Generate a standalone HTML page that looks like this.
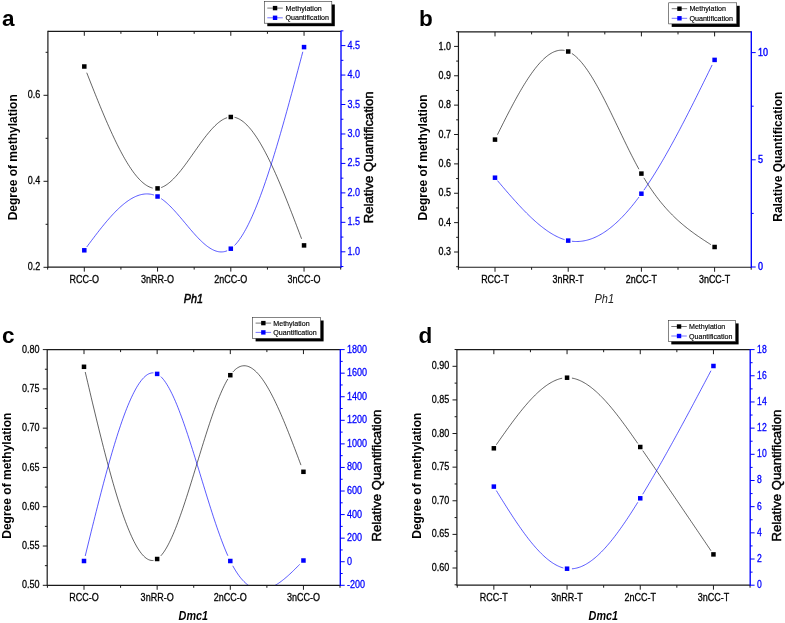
<!DOCTYPE html>
<html lang="en">
<head>
<meta charset="utf-8">
<title>Methylation and relative quantification of Ph1 and Dmc1</title>
<style>
html,body{margin:0;padding:0;background:#fff;}
body{width:785px;height:623px;overflow:hidden;}
svg{display:block;filter:blur(0.33px);font-family:"Liberation Sans",sans-serif;}
</style>
</head>
<body>
<svg width="785" height="623" viewBox="0 0 785 623">
<rect width="785" height="623" fill="#fff"/>
<clipPath id="clip0"><rect x="47.9" y="31.3" width="293.1" height="235.8"/></clipPath>
<path d="M86.74 72.72 L87.96 75.83 L89.18 78.93 L90.40 82.03 L91.62 85.11 L92.85 88.19 L94.07 91.25 L95.29 94.30 L96.51 97.33 L97.73 100.34 L98.95 103.33 L100.17 106.31 L101.39 109.25 L102.61 112.18 L103.83 115.07 L105.05 117.94 L106.28 120.78 L107.50 123.58 L108.72 126.35 L109.94 129.09 L111.16 131.78 L112.38 134.44 L113.60 137.06 L114.82 139.63 L116.04 142.15 L117.26 144.63 L118.48 147.07 L119.70 149.45 L120.93 151.78 L122.15 154.05 L123.37 156.27 L124.59 158.43 L125.81 160.53 L127.03 162.57 L128.25 164.55 L129.47 166.46 L130.69 168.31 L131.91 170.08 L133.13 171.79 L134.35 173.43 L135.58 174.99 L136.80 176.47 L138.02 177.88 L139.24 179.21 L140.46 180.46 L141.68 181.62 L142.90 182.70 L144.12 183.70 L145.34 184.60 L146.56 185.42 L147.78 186.14 L149.00 186.77 L150.23 187.30 L151.45 187.74 L152.67 188.08 M161.21 187.54 L162.43 187.05 L163.65 186.47 L164.88 185.80 L166.10 185.05 L167.32 184.21 L168.54 183.29 L169.76 182.30 L170.98 181.23 L172.20 180.10 L173.42 178.90 L174.64 177.64 L175.86 176.33 L177.08 174.96 L178.30 173.54 L179.53 172.07 L180.75 170.57 L181.97 169.02 L183.19 167.44 L184.41 165.82 L185.63 164.18 L186.85 162.52 L188.07 160.83 L189.29 159.13 L190.51 157.41 L191.73 155.68 L192.95 153.95 L194.18 152.21 L195.40 150.48 L196.62 148.75 L197.84 147.03 L199.06 145.32 L200.28 143.62 L201.50 141.95 L202.72 140.30 L203.94 138.67 L205.16 137.07 L206.38 135.51 L207.60 133.99 L208.83 132.51 L210.05 131.07 L211.27 129.68 L212.49 128.34 L213.71 127.06 L214.93 125.84 L216.15 124.68 L217.37 123.59 L218.59 122.56 L219.81 121.61 L221.03 120.74 L222.25 119.95 L223.48 119.25 L224.70 118.63 L225.92 118.11 L227.14 117.68 M234.52 117.30 L235.77 117.63 L237.01 118.05 L238.25 118.58 L239.49 119.22 L240.73 119.95 L241.97 120.78 L243.22 121.71 L244.46 122.74 L245.70 123.85 L246.94 125.06 L248.18 126.36 L249.42 127.74 L250.66 129.21 L251.91 130.76 L253.15 132.40 L254.39 134.11 L255.63 135.90 L256.87 137.76 L258.11 139.70 L259.36 141.71 L260.60 143.79 L261.84 145.94 L263.08 148.15 L264.32 150.43 L265.56 152.77 L266.80 155.17 L268.05 157.62 L269.29 160.14 L270.53 162.70 L271.77 165.32 L273.01 167.99 L274.25 170.71 L275.49 173.47 L276.74 176.28 L277.98 179.13 L279.22 182.02 L280.46 184.95 L281.70 187.92 L282.94 190.92 L284.19 193.96 L285.43 197.02 L286.67 200.12 L287.91 203.24 L289.15 206.38 L290.39 209.55 L291.63 212.74 L292.88 215.96 L294.12 219.18 L295.36 222.43 L296.60 225.68 L297.84 228.95 L299.08 232.23 L300.33 235.52 L301.57 238.81" fill="none" stroke="#000000" stroke-width="0.68" clip-path="url(#clip0)" stroke-opacity="0.9"/>
<path d="M86.74 247.00 L87.96 245.36 L89.18 243.71 L90.40 242.08 L91.62 240.45 L92.85 238.82 L94.07 237.21 L95.29 235.60 L96.51 234.01 L97.73 232.43 L98.95 230.86 L100.17 229.31 L101.39 227.78 L102.61 226.26 L103.83 224.76 L105.05 223.28 L106.28 221.82 L107.50 220.39 L108.72 218.98 L109.94 217.59 L111.16 216.23 L112.38 214.90 L113.60 213.60 L114.82 212.32 L116.04 211.08 L117.26 209.87 L118.48 208.70 L119.70 207.56 L120.93 206.45 L122.15 205.39 L123.37 204.36 L124.59 203.38 L125.81 202.43 L127.03 201.53 L128.25 200.67 L129.47 199.85 L130.69 199.09 L131.91 198.37 L133.13 197.70 L134.35 197.08 L135.58 196.51 L136.80 195.99 L138.02 195.53 L139.24 195.12 L140.46 194.77 L141.68 194.48 L142.90 194.25 L144.12 194.07 L145.34 193.96 L146.56 193.91 L147.78 193.93 L149.00 194.01 L150.23 194.15 L151.45 194.37 L152.67 194.65 L153.89 195.00 M161.21 198.65 L162.43 199.51 L163.65 200.42 L164.88 201.39 L166.10 202.42 L167.32 203.50 L168.54 204.63 L169.76 205.81 L170.98 207.02 L172.20 208.28 L173.42 209.57 L174.64 210.89 L175.86 212.24 L177.08 213.62 L178.30 215.02 L179.53 216.43 L180.75 217.87 L181.97 219.31 L183.19 220.76 L184.41 222.22 L185.63 223.68 L186.85 225.14 L188.07 226.60 L189.29 228.04 L190.51 229.48 L191.73 230.90 L192.95 232.30 L194.18 233.68 L195.40 235.04 L196.62 236.37 L197.84 237.67 L199.06 238.93 L200.28 240.16 L201.50 241.34 L202.72 242.48 L203.94 243.57 L205.16 244.61 L206.38 245.60 L207.60 246.52 L208.83 247.39 L210.05 248.19 L211.27 248.92 L212.49 249.59 L213.71 250.17 L214.93 250.68 L216.15 251.11 L217.37 251.45 L218.59 251.71 L219.81 251.88 L221.03 251.95 L222.25 251.92 L223.48 251.79 L224.70 251.55 L225.92 251.21 L227.14 250.76 M234.52 245.48 L235.77 244.16 L237.01 242.72 L238.25 241.16 L239.49 239.49 L240.73 237.70 L241.97 235.80 L243.22 233.79 L244.46 231.67 L245.70 229.45 L246.94 227.13 L248.18 224.71 L249.42 222.19 L250.66 219.57 L251.91 216.86 L253.15 214.05 L254.39 211.16 L255.63 208.18 L256.87 205.12 L258.11 201.97 L259.36 198.74 L260.60 195.43 L261.84 192.05 L263.08 188.59 L264.32 185.06 L265.56 181.46 L266.80 177.79 L268.05 174.06 L269.29 170.26 L270.53 166.40 L271.77 162.48 L273.01 158.51 L274.25 154.48 L275.49 150.40 L276.74 146.27 L277.98 142.09 L279.22 137.87 L280.46 133.60 L281.70 129.29 L282.94 124.94 L284.19 120.55 L285.43 116.13 L286.67 111.68 L287.91 107.19 L289.15 102.68 L290.39 98.14 L291.63 93.57 L292.88 88.99 L294.12 84.38 L295.36 79.76 L296.60 75.12 L297.84 70.47 L299.08 65.81 L300.33 61.14 L301.57 56.46 L302.81 51.78" fill="none" stroke="#0000ff" stroke-width="0.72" clip-path="url(#clip0)" stroke-opacity="0.9"/>
<rect x="82.05" y="64.25" width="4.5" height="4.5" fill="#000000"/>
<rect x="155.3" y="186.15" width="4.5" height="4.5" fill="#000000"/>
<rect x="228.55" y="114.75" width="4.5" height="4.5" fill="#000000"/>
<rect x="301.8" y="243.15" width="4.5" height="4.5" fill="#000000"/>
<rect x="82.05" y="248.05" width="4.5" height="4.5" fill="#0000ff"/>
<rect x="155.3" y="194.25" width="4.5" height="4.5" fill="#0000ff"/>
<rect x="228.55" y="246.45" width="4.5" height="4.5" fill="#0000ff"/>
<rect x="301.8" y="44.85" width="4.5" height="4.5" fill="#0000ff"/>
<g stroke="#1a1a1a" stroke-width="1.2" fill="none">
<path d="M47.9 30.7 V267.7"/>
<path d="M47.9 31.3 H341"/>
<path d="M47.9 267.1 H341"/>
<path stroke-width="1.0" d="M84.3 267.1 v4.5 M84.3 31.3 v4.5 M157.55 267.1 v4.5 M157.55 31.3 v4.5 M230.8 267.1 v4.5 M230.8 31.3 v4.5 M304.05 267.1 v4.5 M304.05 31.3 v4.5 M47.67 267.1 v2.5 M120.92 267.1 v2.5 M120.92 31.3 v2.5 M194.18 267.1 v2.5 M194.18 31.3 v2.5 M267.43 267.1 v2.5 M267.43 31.3 v2.5 M340.68 267.1 v2.5 M47.9 267.3 h-4.4 M47.9 181.3 h-4.4 M47.9 95.3 h-4.4 M47.9 224.3 h-2.3 M47.9 138.3 h-2.3 M47.9 52.3 h-2.3"/>
</g>
<g stroke="#0000ff" stroke-width="1.35" fill="none">
<path d="M341 30.7 V267.7"/>
<path stroke-width="1.0" d="M341 251.8 h4.4 M341 222.34 h4.4 M341 192.89 h4.4 M341 163.43 h4.4 M341 133.97 h4.4 M341 104.51 h4.4 M341 75.06 h4.4 M341 45.6 h4.4 M341 266.53 h2.4 M341 237.07 h2.4 M341 207.61 h2.4 M341 178.16 h2.4 M341 148.7 h2.4 M341 119.24 h2.4 M341 89.79 h2.4 M341 60.33 h2.4 M341 30.87 h2.4"/>
</g>
<g font-size="10.5" fill="#000" text-anchor="end" stroke="#000" stroke-width="0.28">
<text transform="translate(40.3 270.4) scale(0.86 1)">0.2</text>
<text transform="translate(40.3 184.4) scale(0.86 1)">0.4</text>
<text transform="translate(40.3 98.4) scale(0.86 1)">0.6</text>
</g>
<g font-size="10.5" fill="#0000ff" text-anchor="start" stroke="#0000ff" stroke-width="0.28">
<text transform="translate(347.6 254.8) scale(0.86 1)">1.0</text>
<text transform="translate(347.6 225.34) scale(0.86 1)">1.5</text>
<text transform="translate(347.6 195.89) scale(0.86 1)">2.0</text>
<text transform="translate(347.6 166.43) scale(0.86 1)">2.5</text>
<text transform="translate(347.6 136.97) scale(0.86 1)">3.0</text>
<text transform="translate(347.6 107.51) scale(0.86 1)">3.5</text>
<text transform="translate(347.6 78.06) scale(0.86 1)">4.0</text>
<text transform="translate(347.6 48.6) scale(0.86 1)">4.5</text>
</g>
<g font-size="10.5" fill="#000" text-anchor="middle" stroke="#000" stroke-width="0.28">
<text transform="translate(84.3 282.6) scale(0.86 1)">RCC-O</text>
<text transform="translate(157.55 282.6) scale(0.86 1)">3nRR-O</text>
<text transform="translate(230.8 282.6) scale(0.86 1)">2nCC-O</text>
<text transform="translate(304.05 282.6) scale(0.86 1)">3nCC-O</text>
</g>
<text transform="translate(16.6 157.3) rotate(-90)" text-anchor="middle" font-size="12" font-weight="bold">Degree of methylation</text>
<text transform="translate(373.2 157.3) rotate(-90)" text-anchor="middle" font-size="13.2" font-weight="normal" stroke="#000" stroke-width="0.45">Relative Quantification</text>
<text transform="translate(193.3 303.4) scale(0.83 1)" text-anchor="middle" font-size="13" font-style="italic" font-weight="normal" stroke="#000" stroke-width="0.55">Ph1</text>
<text transform="translate(2 25.6)" font-size="22.5" font-weight="bold">a</text>
<rect x="267.3" y="4.5" width="67.5" height="21.7" fill="#000"/>
<rect x="264.3" y="1.5" width="67.5" height="21.7" fill="#fff" stroke="#333" stroke-width="0.6"/>
<path d="M267.3 8.1 H282.8" stroke="#000000" stroke-width="0.6" stroke-opacity="0.9"/>
<rect x="272.85" y="5.9" width="4.4" height="4.4" fill="#000000"/>
<text x="285.5" y="10.66" font-size="7.1" fill="#000" stroke="#000" stroke-width="0.15">Methylation</text>
<path d="M267.3 17.8 H282.8" stroke="#0000ff" stroke-width="0.6" stroke-opacity="0.9"/>
<rect x="272.85" y="15.6" width="4.4" height="4.4" fill="#0000ff"/>
<text x="285.5" y="20.36" font-size="7.1" fill="#000" stroke="#000" stroke-width="0.15">Quantification</text>
<clipPath id="clip1"><rect x="458.45" y="31.9" width="292.85" height="235.35"/></clipPath>
<path d="M497.44 134.69 L498.66 132.24 L499.88 129.79 L501.10 127.35 L502.32 124.92 L503.54 122.50 L504.76 120.09 L505.98 117.69 L507.20 115.31 L508.42 112.94 L509.64 110.59 L510.86 108.27 L512.08 105.96 L513.30 103.68 L514.52 101.42 L515.74 99.19 L516.96 96.98 L518.18 94.81 L519.40 92.66 L520.62 90.55 L521.84 88.48 L523.06 86.44 L524.28 84.44 L525.50 82.47 L526.72 80.55 L527.94 78.67 L529.16 76.84 L530.38 75.05 L531.60 73.31 L532.82 71.62 L534.04 69.98 L535.26 68.40 L536.48 66.86 L537.70 65.39 L538.92 63.97 L540.14 62.61 L541.36 61.31 L542.58 60.08 L543.80 58.90 L545.02 57.80 L546.24 56.76 L547.46 55.79 L548.68 54.89 L549.90 54.07 L551.12 53.32 L552.34 52.64 L553.56 52.04 L554.78 51.52 L556.00 51.08 L557.22 50.73 L558.44 50.46 L559.66 50.27 L560.88 50.17 L562.10 50.16 L563.32 50.24 L564.54 50.41 M571.86 53.46 L573.08 54.30 L574.30 55.23 L575.52 56.24 L576.74 57.34 L577.96 58.52 L579.18 59.79 L580.40 61.13 L581.62 62.54 L582.84 64.03 L584.06 65.58 L585.28 67.21 L586.50 68.90 L587.72 70.65 L588.94 72.46 L590.16 74.33 L591.38 76.26 L592.60 78.24 L593.82 80.27 L595.04 82.35 L596.26 84.47 L597.48 86.64 L598.70 88.85 L599.92 91.10 L601.14 93.39 L602.36 95.71 L603.58 98.06 L604.80 100.44 L606.02 102.85 L607.24 105.28 L608.46 107.73 L609.68 110.21 L610.90 112.70 L612.12 115.20 L613.34 117.72 L614.56 120.25 L615.78 122.79 L617.00 125.33 L618.22 127.87 L619.44 130.42 L620.66 132.96 L621.88 135.50 L623.10 138.04 L624.32 140.56 L625.54 143.07 L626.76 145.57 L627.98 148.05 L629.20 150.52 L630.42 152.96 L631.64 155.38 L632.86 157.77 L634.08 160.14 L635.30 162.47 L636.52 164.77 L637.74 167.04 L638.96 169.27 M643.88 177.83 L645.12 179.87 L646.36 181.87 L647.60 183.83 L648.84 185.75 L650.08 187.62 L651.33 189.45 L652.57 191.24 L653.81 193.00 L655.05 194.71 L656.29 196.39 L657.53 198.03 L658.77 199.63 L660.01 201.20 L661.25 202.73 L662.49 204.23 L663.73 205.70 L664.97 207.13 L666.21 208.53 L667.45 209.90 L668.69 211.24 L669.94 212.55 L671.18 213.84 L672.42 215.09 L673.66 216.32 L674.90 217.53 L676.14 218.70 L677.38 219.86 L678.62 220.99 L679.86 222.09 L681.10 223.18 L682.34 224.24 L683.58 225.28 L684.82 226.31 L686.06 227.31 L687.31 228.30 L688.55 229.27 L689.79 230.22 L691.03 231.16 L692.27 232.08 L693.51 232.98 L694.75 233.88 L695.99 234.76 L697.23 235.63 L698.47 236.49 L699.71 237.34 L700.95 238.17 L702.19 239.00 L703.43 239.83 L704.67 240.64 L705.92 241.45 L707.16 242.25 L708.40 243.05 L709.64 243.85 L710.88 244.64" fill="none" stroke="#000000" stroke-width="0.68" clip-path="url(#clip1)" stroke-opacity="0.9"/>
<path d="M497.44 180.58 L498.66 182.02 L499.88 183.45 L501.10 184.89 L502.32 186.32 L503.54 187.74 L504.76 189.16 L505.98 190.58 L507.20 191.99 L508.42 193.39 L509.64 194.79 L510.86 196.18 L512.08 197.56 L513.30 198.93 L514.52 200.29 L515.74 201.64 L516.96 202.98 L518.18 204.31 L519.40 205.63 L520.62 206.93 L521.84 208.22 L523.06 209.49 L524.28 210.75 L525.50 212.00 L526.72 213.22 L527.94 214.43 L529.16 215.63 L530.38 216.80 L531.60 217.96 L532.82 219.09 L534.04 220.21 L535.26 221.31 L536.48 222.38 L537.70 223.43 L538.92 224.46 L540.14 225.46 L541.36 226.45 L542.58 227.40 L543.80 228.33 L545.02 229.24 L546.24 230.11 L547.46 230.97 L548.68 231.79 L549.90 232.58 L551.12 233.35 L552.34 234.08 L553.56 234.78 L554.78 235.46 L556.00 236.10 L557.22 236.70 L558.44 237.28 L559.66 237.82 L560.88 238.33 L562.10 238.80 L563.32 239.23 L564.54 239.63 M571.86 241.22 L573.08 241.35 L574.30 241.44 L575.52 241.50 L576.74 241.51 L577.96 241.49 L579.18 241.43 L580.40 241.33 L581.62 241.20 L582.84 241.03 L584.06 240.82 L585.28 240.58 L586.50 240.30 L587.72 239.98 L588.94 239.63 L590.16 239.24 L591.38 238.82 L592.60 238.36 L593.82 237.87 L595.04 237.34 L596.26 236.78 L597.48 236.19 L598.70 235.56 L599.92 234.89 L601.14 234.19 L602.36 233.46 L603.58 232.70 L604.80 231.90 L606.02 231.07 L607.24 230.21 L608.46 229.32 L609.68 228.39 L610.90 227.43 L612.12 226.44 L613.34 225.42 L614.56 224.36 L615.78 223.28 L617.00 222.16 L618.22 221.02 L619.44 219.84 L620.66 218.63 L621.88 217.40 L623.10 216.13 L624.32 214.84 L625.54 213.51 L626.76 212.16 L627.98 210.77 L629.20 209.36 L630.42 207.92 L631.64 206.45 L632.86 204.95 L634.08 203.43 L635.30 201.87 L636.52 200.29 L637.74 198.68 L638.96 197.05 M643.88 190.19 L645.12 188.39 L646.36 186.56 L647.60 184.72 L648.84 182.84 L650.08 180.94 L651.33 179.02 L652.57 177.08 L653.81 175.11 L655.05 173.12 L656.29 171.10 L657.53 169.07 L658.77 167.01 L660.01 164.93 L661.25 162.83 L662.49 160.71 L663.73 158.58 L664.97 156.42 L666.21 154.24 L667.45 152.05 L668.69 149.84 L669.94 147.61 L671.18 145.37 L672.42 143.11 L673.66 140.83 L674.90 138.54 L676.14 136.23 L677.38 133.91 L678.62 131.58 L679.86 129.23 L681.10 126.87 L682.34 124.49 L683.58 122.11 L684.82 119.71 L686.06 117.30 L687.31 114.88 L688.55 112.45 L689.79 110.01 L691.03 107.56 L692.27 105.11 L693.51 102.64 L694.75 100.17 L695.99 97.69 L697.23 95.20 L698.47 92.70 L699.71 90.20 L700.95 87.70 L702.19 85.19 L703.43 82.67 L704.67 80.15 L705.92 77.63 L707.16 75.10 L708.40 72.57 L709.64 70.04 L710.88 67.51 L712.12 64.97" fill="none" stroke="#0000ff" stroke-width="0.72" clip-path="url(#clip1)" stroke-opacity="0.9"/>
<rect x="492.75" y="137.35" width="4.5" height="4.5" fill="#000000"/>
<rect x="565.95" y="49.25" width="4.5" height="4.5" fill="#000000"/>
<rect x="639.15" y="171.35" width="4.5" height="4.5" fill="#000000"/>
<rect x="712.35" y="244.75" width="4.5" height="4.5" fill="#000000"/>
<rect x="492.75" y="175.45" width="4.5" height="4.5" fill="#0000ff"/>
<rect x="565.95" y="238.35" width="4.5" height="4.5" fill="#0000ff"/>
<rect x="639.15" y="191.45" width="4.5" height="4.5" fill="#0000ff"/>
<rect x="712.35" y="57.65" width="4.5" height="4.5" fill="#0000ff"/>
<g stroke="#1a1a1a" stroke-width="1.2" fill="none">
<path d="M458.45 31.3 V267.85"/>
<path d="M458.45 31.9 H751.3"/>
<path d="M458.45 267.25 H751.3"/>
<path stroke-width="1.0" d="M495 267.25 v4.5 M495 31.9 v4.5 M568.2 267.25 v4.5 M568.2 31.9 v4.5 M641.4 267.25 v4.5 M641.4 31.9 v4.5 M714.6 267.25 v4.5 M714.6 31.9 v4.5 M458.4 267.25 v2.5 M531.6 267.25 v2.5 M531.6 31.9 v2.5 M604.8 267.25 v2.5 M604.8 31.9 v2.5 M678 267.25 v2.5 M678 31.9 v2.5 M751.2 267.25 v2.5 M458.45 252 h-4.4 M458.45 222.63 h-4.4 M458.45 193.26 h-4.4 M458.45 163.89 h-4.4 M458.45 134.51 h-4.4 M458.45 105.14 h-4.4 M458.45 75.77 h-4.4 M458.45 46.4 h-4.4 M458.45 266.69 h-2.3 M458.45 237.31 h-2.3 M458.45 207.94 h-2.3 M458.45 178.57 h-2.3 M458.45 149.2 h-2.3 M458.45 119.83 h-2.3 M458.45 90.46 h-2.3 M458.45 61.09 h-2.3 M458.45 31.71 h-2.3"/>
</g>
<g stroke="#0000ff" stroke-width="1.35" fill="none">
<path d="M751.3 31.3 V267.85"/>
<path stroke-width="1.0" d="M751.3 267 h4.4 M751.3 159.8 h4.4 M751.3 52.6 h4.4 M751.3 213.4 h2.4 M751.3 106.2 h2.4"/>
</g>
<g font-size="10.5" fill="#000" text-anchor="end" stroke="#000" stroke-width="0.33">
<text transform="translate(450.85 255.2) scale(0.85 1)">0.3</text>
<text transform="translate(450.85 225.83) scale(0.85 1)">0.4</text>
<text transform="translate(450.85 196.46) scale(0.85 1)">0.5</text>
<text transform="translate(450.85 167.09) scale(0.85 1)">0.6</text>
<text transform="translate(450.85 137.71) scale(0.85 1)">0.7</text>
<text transform="translate(450.85 108.34) scale(0.85 1)">0.8</text>
<text transform="translate(450.85 78.97) scale(0.85 1)">0.9</text>
<text transform="translate(450.85 49.6) scale(0.85 1)">1.0</text>
</g>
<g font-size="10.5" fill="#0000ff" text-anchor="start" stroke="#0000ff" stroke-width="0.4">
<text transform="translate(757.9 270) scale(0.86 1)">0</text>
<text transform="translate(757.9 162.8) scale(0.86 1)">5</text>
<text transform="translate(757.9 55.6) scale(0.86 1)">10</text>
</g>
<g font-size="10.5" fill="#000" text-anchor="middle" stroke="#000" stroke-width="0.33">
<text transform="translate(495 282.6) scale(0.85 1)">RCC-T</text>
<text transform="translate(568.2 282.6) scale(0.85 1)">3nRR-T</text>
<text transform="translate(641.4 282.6) scale(0.85 1)">2nCC-T</text>
<text transform="translate(714.6 282.6) scale(0.85 1)">3nCC-T</text>
</g>
<text transform="translate(427 157.4) rotate(-90)" text-anchor="middle" font-size="12" font-weight="bold">Degree of methylation</text>
<text transform="translate(782.4 156.7) rotate(-90)" text-anchor="middle" font-size="12" font-weight="bold">Ralative Quantification</text>
<text transform="translate(604.3 303) scale(0.85 1)" text-anchor="middle" font-size="13" font-style="italic" font-weight="normal" fill="#222">Ph1</text>
<text transform="translate(419 25.8)" font-size="22.5" font-weight="bold">b</text>
<rect x="671.7" y="5.8" width="68" height="21.1" fill="#000"/>
<rect x="668.7" y="2.8" width="68" height="21.1" fill="#fff" stroke="#333" stroke-width="0.6"/>
<path d="M671.7 8.7 H687.2" stroke="#000000" stroke-width="0.6" stroke-opacity="0.9"/>
<rect x="677.25" y="6.5" width="4.4" height="4.4" fill="#000000"/>
<text x="689.4" y="11.27" font-size="7.15" fill="#000" stroke="#000" stroke-width="0.15">Methylation</text>
<path d="M671.7 18.3 H687.2" stroke="#0000ff" stroke-width="0.6" stroke-opacity="0.9"/>
<rect x="677.25" y="16.1" width="4.4" height="4.4" fill="#0000ff"/>
<text x="689.4" y="20.87" font-size="7.15" fill="#000" stroke="#000" stroke-width="0.15">Quantification</text>
<clipPath id="clip2"><rect x="47.2" y="349.6" width="293.1" height="235.7"/></clipPath>
<path d="M85.22 371.99 L86.44 377.17 L87.66 382.34 L88.88 387.51 L90.10 392.66 L91.31 397.80 L92.53 402.91 L93.75 408.01 L94.97 413.07 L96.19 418.11 L97.41 423.11 L98.63 428.08 L99.85 433.01 L101.07 437.89 L102.29 442.73 L103.51 447.52 L104.73 452.26 L105.94 456.94 L107.16 461.56 L108.38 466.11 L109.60 470.61 L110.82 475.03 L112.04 479.38 L113.26 483.65 L114.48 487.84 L115.70 491.96 L116.92 495.98 L118.14 499.92 L119.36 503.76 L120.58 507.51 L121.79 511.16 L123.01 514.71 L124.23 518.15 L125.45 521.48 L126.67 524.70 L127.89 527.80 L129.11 530.79 L130.33 533.65 L131.55 536.38 L132.77 538.99 L133.99 541.47 L135.21 543.81 L136.42 546.01 L137.64 548.07 L138.86 549.98 L140.08 551.75 L141.30 553.36 L142.52 554.82 L143.74 556.12 L144.96 557.26 L146.18 558.23 L147.40 559.03 L148.62 559.67 L149.84 560.12 L151.05 560.40 L152.27 560.50 L153.49 560.41 M160.81 555.85 L162.03 554.43 L163.25 552.84 L164.47 551.08 L165.68 549.16 L166.90 547.08 L168.12 544.85 L169.34 542.48 L170.56 539.97 L171.78 537.33 L173.00 534.57 L174.22 531.68 L175.44 528.68 L176.66 525.58 L177.88 522.37 L179.09 519.07 L180.31 515.68 L181.53 512.21 L182.75 508.66 L183.97 505.04 L185.19 501.36 L186.41 497.61 L187.63 493.82 L188.85 489.98 L190.07 486.10 L191.29 482.18 L192.51 478.24 L193.73 474.27 L194.94 470.29 L196.16 466.30 L197.38 462.30 L198.60 458.31 L199.82 454.32 L201.04 450.35 L202.26 446.40 L203.48 442.48 L204.70 438.59 L205.92 434.74 L207.14 430.93 L208.36 427.17 L209.57 423.47 L210.79 419.84 L212.01 416.27 L213.23 412.78 L214.45 409.37 L215.67 406.05 L216.89 402.82 L218.11 399.69 L219.33 396.66 L220.55 393.75 L221.77 390.96 L222.99 388.28 L224.20 385.74 L225.42 383.34 L226.64 381.08 L227.86 378.96 M232.78 372.05 L234.02 370.72 L235.26 369.56 L236.50 368.55 L237.74 367.71 L238.98 367.02 L240.22 366.48 L241.46 366.09 L242.70 365.85 L243.94 365.75 L245.18 365.78 L246.42 365.96 L247.66 366.27 L248.90 366.71 L250.14 367.28 L251.38 367.98 L252.62 368.80 L253.86 369.73 L255.10 370.79 L256.34 371.95 L257.58 373.23 L258.82 374.62 L260.06 376.11 L261.30 377.70 L262.54 379.40 L263.78 381.19 L265.02 383.07 L266.26 385.04 L267.49 387.10 L268.73 389.25 L269.97 391.47 L271.21 393.78 L272.45 396.16 L273.69 398.61 L274.93 401.14 L276.17 403.73 L277.41 406.38 L278.65 409.10 L279.89 411.87 L281.13 414.70 L282.37 417.59 L283.61 420.52 L284.85 423.50 L286.09 426.52 L287.33 429.58 L288.57 432.69 L289.81 435.82 L291.05 438.99 L292.29 442.19 L293.53 445.41 L294.77 448.66 L296.01 451.93 L297.25 455.21 L298.49 458.51 L299.73 461.82 L300.97 465.14" fill="none" stroke="#000000" stroke-width="0.68" clip-path="url(#clip2)" stroke-opacity="0.9"/>
<path d="M85.22 556.01 L86.44 551.02 L87.66 546.04 L88.88 541.07 L90.10 536.12 L91.31 531.17 L92.53 526.25 L93.75 521.35 L94.97 516.47 L96.19 511.62 L97.41 506.80 L98.63 502.02 L99.85 497.27 L101.07 492.57 L102.29 487.91 L103.51 483.29 L104.73 478.73 L105.94 474.21 L107.16 469.76 L108.38 465.36 L109.60 461.03 L110.82 456.76 L112.04 452.56 L113.26 448.43 L114.48 444.38 L115.70 440.40 L116.92 436.51 L118.14 432.70 L119.36 428.97 L120.58 425.34 L121.79 421.80 L123.01 418.36 L124.23 415.02 L125.45 411.78 L126.67 408.64 L127.89 405.62 L129.11 402.71 L130.33 399.91 L131.55 397.23 L132.77 394.68 L133.99 392.24 L135.21 389.94 L136.42 387.77 L137.64 385.73 L138.86 383.83 L140.08 382.07 L141.30 380.45 L142.52 378.98 L143.74 377.66 L144.96 376.49 L146.18 375.48 L147.40 374.62 L148.62 373.93 L149.84 373.41 L151.05 373.05 L152.27 372.86 L153.49 372.85 M160.81 376.59 L162.03 377.84 L163.25 379.25 L164.47 380.83 L165.68 382.56 L166.90 384.44 L168.12 386.47 L169.34 388.64 L170.56 390.94 L171.78 393.37 L173.00 395.93 L174.22 398.61 L175.44 401.40 L176.66 404.30 L177.88 407.31 L179.09 410.41 L180.31 413.61 L181.53 416.89 L182.75 420.26 L183.97 423.71 L185.19 427.22 L186.41 430.81 L187.63 434.46 L188.85 438.16 L190.07 441.92 L191.29 445.73 L192.51 449.57 L193.73 453.46 L194.94 457.37 L196.16 461.31 L197.38 465.27 L198.60 469.24 L199.82 473.23 L201.04 477.22 L202.26 481.21 L203.48 485.20 L204.70 489.17 L205.92 493.13 L207.14 497.07 L208.36 500.98 L209.57 504.86 L210.79 508.70 L212.01 512.51 L213.23 516.26 L214.45 519.97 L215.67 523.61 L216.89 527.20 L218.11 530.71 L219.33 534.15 L220.55 537.52 L221.77 540.80 L222.99 543.99 L224.20 547.09 L225.42 550.09 L226.64 552.99 L227.86 555.78 M232.78 565.81 L234.02 568.03 L235.26 570.12 L236.50 572.10 L237.74 573.95 L238.98 575.69 L240.22 577.32 L241.46 578.83 L242.70 580.23 L243.94 581.53 L245.18 582.72 L246.42 583.81 L247.66 584.80 L248.90 585.69 L250.14 586.48 L251.38 587.18 L252.62 587.79 L253.86 588.31 L255.10 588.73 L256.34 589.08 L257.58 589.34 L258.82 589.52 L260.06 589.62 L261.30 589.65 L262.54 589.60 L263.78 589.47 L265.02 589.28 L266.26 589.02 L267.49 588.69 L268.73 588.30 L269.97 587.85 L271.21 587.34 L272.45 586.78 L273.69 586.15 L274.93 585.48 L276.17 584.76 L277.41 583.98 L278.65 583.16 L279.89 582.30 L281.13 581.40 L282.37 580.45 L283.61 579.47 L284.85 578.46 L286.09 577.41 L287.33 576.33 L288.57 575.22 L289.81 574.09 L291.05 572.93 L292.29 571.75 L293.53 570.55 L294.77 569.33 L296.01 568.10 L297.25 566.85 L298.49 565.59 L299.73 564.33" fill="none" stroke="#0000ff" stroke-width="0.72" clip-path="url(#clip2)" stroke-opacity="0.9"/>
<rect x="81.75" y="364.55" width="4.5" height="4.5" fill="#000000"/>
<rect x="154.9" y="556.75" width="4.5" height="4.5" fill="#000000"/>
<rect x="228.05" y="372.95" width="4.5" height="4.5" fill="#000000"/>
<rect x="301.2" y="469.55" width="4.5" height="4.5" fill="#000000"/>
<rect x="81.75" y="558.75" width="4.5" height="4.5" fill="#0000ff"/>
<rect x="154.9" y="371.65" width="4.5" height="4.5" fill="#0000ff"/>
<rect x="228.05" y="558.75" width="4.5" height="4.5" fill="#0000ff"/>
<rect x="301.2" y="558.25" width="4.5" height="4.5" fill="#0000ff"/>
<g stroke="#1a1a1a" stroke-width="1.2" fill="none">
<path d="M47.2 349 V585.9"/>
<path d="M47.2 349.6 H340.3"/>
<path d="M47.2 585.3 H340.3"/>
<path stroke-width="1.0" d="M84 585.3 v4.5 M84 349.6 v4.5 M157.15 585.3 v4.5 M157.15 349.6 v4.5 M230.3 585.3 v4.5 M230.3 349.6 v4.5 M303.45 585.3 v4.5 M303.45 349.6 v4.5 M47.42 585.3 v2.5 M120.58 585.3 v2.5 M120.58 349.6 v2.5 M193.73 585.3 v2.5 M193.73 349.6 v2.5 M266.88 585.3 v2.5 M266.88 349.6 v2.5 M340.03 585.3 v2.5 M47.2 585.3 h-4.4 M47.2 546.02 h-4.4 M47.2 506.73 h-4.4 M47.2 467.45 h-4.4 M47.2 428.17 h-4.4 M47.2 388.88 h-4.4 M47.2 349.6 h-4.4 M47.2 565.66 h-2.3 M47.2 526.38 h-2.3 M47.2 487.09 h-2.3 M47.2 447.81 h-2.3 M47.2 408.53 h-2.3 M47.2 369.24 h-2.3"/>
</g>
<g stroke="#0000ff" stroke-width="1.35" fill="none">
<path d="M340.3 349 V585.9"/>
<path stroke-width="1.0" d="M340.3 585.3 h4.4 M340.3 561.73 h4.4 M340.3 538.16 h4.4 M340.3 514.59 h4.4 M340.3 491.02 h4.4 M340.3 467.45 h4.4 M340.3 443.88 h4.4 M340.3 420.31 h4.4 M340.3 396.74 h4.4 M340.3 373.17 h4.4 M340.3 349.6 h4.4 M340.3 573.51 h2.4 M340.3 549.94 h2.4 M340.3 526.38 h2.4 M340.3 502.8 h2.4 M340.3 479.24 h2.4 M340.3 455.66 h2.4 M340.3 432.1 h2.4 M340.3 408.52 h2.4 M340.3 384.96 h2.4 M340.3 361.38 h2.4"/>
</g>
<g font-size="10.5" fill="#000" text-anchor="end" stroke="#000" stroke-width="0.28">
<text transform="translate(39.6 588.4) scale(0.86 1)">0.50</text>
<text transform="translate(39.6 549.12) scale(0.86 1)">0.55</text>
<text transform="translate(39.6 509.83) scale(0.86 1)">0.60</text>
<text transform="translate(39.6 470.55) scale(0.86 1)">0.65</text>
<text transform="translate(39.6 431.27) scale(0.86 1)">0.70</text>
<text transform="translate(39.6 391.98) scale(0.86 1)">0.75</text>
<text transform="translate(39.6 352.7) scale(0.86 1)">0.80</text>
</g>
<g font-size="10.5" fill="#0000ff" text-anchor="start" stroke="#0000ff" stroke-width="0.28">
<text transform="translate(346.9 588.3) scale(0.86 1)">-200</text>
<text transform="translate(346.9 564.73) scale(0.86 1)">0</text>
<text transform="translate(346.9 541.16) scale(0.86 1)">200</text>
<text transform="translate(346.9 517.59) scale(0.86 1)">400</text>
<text transform="translate(346.9 494.02) scale(0.86 1)">600</text>
<text transform="translate(346.9 470.45) scale(0.86 1)">800</text>
<text transform="translate(346.9 446.88) scale(0.86 1)">1000</text>
<text transform="translate(346.9 423.31) scale(0.86 1)">1200</text>
<text transform="translate(346.9 399.74) scale(0.86 1)">1400</text>
<text transform="translate(346.9 376.17) scale(0.86 1)">1600</text>
<text transform="translate(346.9 352.6) scale(0.86 1)">1800</text>
</g>
<g font-size="10.5" fill="#000" text-anchor="middle" stroke="#000" stroke-width="0.28">
<text transform="translate(84 600.8) scale(0.86 1)">RCC-O</text>
<text transform="translate(157.15 600.8) scale(0.86 1)">3nRR-O</text>
<text transform="translate(230.3 600.8) scale(0.86 1)">2nCC-O</text>
<text transform="translate(303.45 600.8) scale(0.86 1)">3nCC-O</text>
</g>
<text transform="translate(11 475.7) rotate(-90)" text-anchor="middle" font-size="12" font-weight="bold">Degree of methylation</text>
<text transform="translate(380.5 475.6) rotate(-90)" text-anchor="middle" font-size="13.2" font-weight="normal" stroke="#000" stroke-width="0.45">Relative Quantification</text>
<text transform="translate(193.3 620.3) scale(0.9 1)" text-anchor="middle" font-size="12" font-style="italic" font-weight="bold">Dmc1</text>
<text transform="translate(2 342.8)" font-size="22.5" font-weight="bold">c</text>
<rect x="255.6" y="320.5" width="68" height="20.9" fill="#000"/>
<rect x="252.6" y="317.5" width="68" height="20.9" fill="#fff" stroke="#333" stroke-width="0.6"/>
<path d="M255.6 323.1 H271.1" stroke="#000000" stroke-width="0.6" stroke-opacity="0.9"/>
<rect x="261.15" y="320.9" width="4.4" height="4.4" fill="#000000"/>
<text x="273.3" y="325.66" font-size="7.1" fill="#000" stroke="#000" stroke-width="0.15">Methylation</text>
<path d="M255.6 332.4 H271.1" stroke="#0000ff" stroke-width="0.6" stroke-opacity="0.9"/>
<rect x="261.15" y="330.2" width="4.4" height="4.4" fill="#0000ff"/>
<text x="273.3" y="334.96" font-size="7.1" fill="#000" stroke="#000" stroke-width="0.15">Quantification</text>
<clipPath id="clip3"><rect x="456.9" y="349.7" width="293.3" height="235.5"/></clipPath>
<path d="M496.29 444.79 L497.51 443.04 L498.73 441.29 L499.95 439.54 L501.17 437.80 L502.39 436.06 L503.61 434.33 L504.83 432.61 L506.05 430.90 L507.27 429.20 L508.49 427.50 L509.71 425.82 L510.93 424.16 L512.15 422.50 L513.37 420.86 L514.59 419.24 L515.81 417.63 L517.03 416.04 L518.25 414.47 L519.47 412.91 L520.69 411.38 L521.91 409.87 L523.13 408.38 L524.35 406.91 L525.57 405.47 L526.79 404.05 L528.01 402.66 L529.23 401.30 L530.45 399.96 L531.67 398.66 L532.89 397.38 L534.11 396.13 L535.33 394.92 L536.55 393.74 L537.77 392.59 L538.99 391.48 L540.21 390.40 L541.43 389.36 L542.65 388.36 L543.87 387.39 L545.09 386.47 L546.31 385.58 L547.53 384.74 L548.75 383.94 L549.97 383.19 L551.19 382.47 L552.41 381.81 L553.63 381.19 L554.85 380.61 L556.07 380.09 L557.29 379.61 L558.51 379.19 L559.73 378.81 L560.95 378.49 L562.17 378.22 M571.93 378.08 L573.15 378.32 L574.37 378.60 L575.59 378.94 L576.81 379.33 L578.03 379.77 L579.25 380.26 L580.47 380.80 L581.69 381.39 L582.91 382.02 L584.13 382.70 L585.35 383.42 L586.57 384.19 L587.79 385.00 L589.01 385.85 L590.23 386.74 L591.45 387.68 L592.67 388.65 L593.89 389.66 L595.11 390.71 L596.33 391.79 L597.55 392.91 L598.77 394.06 L599.99 395.25 L601.21 396.47 L602.43 397.72 L603.65 399.00 L604.87 400.31 L606.09 401.65 L607.31 403.02 L608.53 404.41 L609.75 405.83 L610.97 407.28 L612.19 408.75 L613.41 410.24 L614.63 411.75 L615.85 413.29 L617.07 414.85 L618.29 416.42 L619.51 418.01 L620.73 419.63 L621.95 421.25 L623.17 422.90 L624.39 424.55 L625.61 426.22 L626.83 427.91 L628.05 429.60 L629.27 431.31 L630.49 433.03 L631.71 434.75 L632.93 436.49 L634.15 438.23 L635.37 439.97 L636.59 441.72 L637.81 443.48 M642.73 450.59 L643.97 452.38 L645.21 454.18 L646.45 455.98 L647.69 457.78 L648.93 459.58 L650.18 461.38 L651.42 463.18 L652.66 464.99 L653.90 466.79 L655.14 468.60 L656.38 470.41 L657.62 472.22 L658.86 474.03 L660.10 475.84 L661.34 477.65 L662.58 479.47 L663.82 481.28 L665.06 483.10 L666.30 484.91 L667.54 486.73 L668.79 488.55 L670.03 490.37 L671.27 492.19 L672.51 494.01 L673.75 495.83 L674.99 497.65 L676.23 499.48 L677.47 501.30 L678.71 503.12 L679.95 504.95 L681.19 506.78 L682.43 508.60 L683.67 510.43 L684.91 512.26 L686.16 514.09 L687.40 515.91 L688.64 517.74 L689.88 519.57 L691.12 521.40 L692.36 523.23 L693.60 525.07 L694.84 526.90 L696.08 528.73 L697.32 530.56 L698.56 532.39 L699.80 534.23 L701.04 536.06 L702.28 537.89 L703.52 539.73 L704.77 541.56 L706.01 543.39 L707.25 545.23 L708.49 547.06 L709.73 548.90 L710.97 550.73" fill="none" stroke="#000000" stroke-width="0.68" clip-path="url(#clip3)" stroke-opacity="0.9"/>
<path d="M496.29 490.55 L497.51 492.53 L498.73 494.50 L499.95 496.47 L501.17 498.43 L502.39 500.38 L503.61 502.33 L504.83 504.27 L506.05 506.20 L507.27 508.13 L508.49 510.04 L509.71 511.93 L510.93 513.82 L512.15 515.69 L513.37 517.54 L514.59 519.38 L515.81 521.21 L517.03 523.01 L518.25 524.79 L519.47 526.56 L520.69 528.30 L521.91 530.02 L523.13 531.72 L524.35 533.39 L525.57 535.04 L526.79 536.66 L528.01 538.25 L529.23 539.82 L530.45 541.35 L531.67 542.86 L532.89 544.33 L534.11 545.77 L535.33 547.18 L536.55 548.55 L537.77 549.89 L538.99 551.19 L540.21 552.46 L541.43 553.68 L542.65 554.87 L543.87 556.01 L545.09 557.11 L546.31 558.18 L547.53 559.19 L548.75 560.16 L549.97 561.09 L551.19 561.97 L552.41 562.80 L553.63 563.59 L554.85 564.32 L556.07 565.00 L557.29 565.64 L558.51 566.21 L559.73 566.74 L560.95 567.21 L562.17 567.62 L563.39 567.98 M571.93 568.82 L573.15 568.71 L574.37 568.54 L575.59 568.31 L576.81 568.03 L578.03 567.69 L579.25 567.30 L580.47 566.86 L581.69 566.36 L582.91 565.82 L584.13 565.22 L585.35 564.58 L586.57 563.88 L587.79 563.14 L589.01 562.36 L590.23 561.52 L591.45 560.65 L592.67 559.72 L593.89 558.76 L595.11 557.75 L596.33 556.70 L597.55 555.61 L598.77 554.48 L599.99 553.31 L601.21 552.11 L602.43 550.86 L603.65 549.58 L604.87 548.26 L606.09 546.91 L607.31 545.53 L608.53 544.11 L609.75 542.65 L610.97 541.17 L612.19 539.66 L613.41 538.11 L614.63 536.54 L615.85 534.94 L617.07 533.31 L618.29 531.66 L619.51 529.98 L620.73 528.27 L621.95 526.54 L623.17 524.79 L624.39 523.02 L625.61 521.22 L626.83 519.40 L628.05 517.57 L629.27 515.71 L630.49 513.84 L631.71 511.95 L632.93 510.04 L634.15 508.12 L635.37 506.18 L636.59 504.23 L637.81 502.27 M642.73 494.22 L643.97 492.17 L645.21 490.10 L646.45 488.03 L647.69 485.95 L648.93 483.85 L650.18 481.75 L651.42 479.63 L652.66 477.51 L653.90 475.38 L655.14 473.24 L656.38 471.09 L657.62 468.93 L658.86 466.76 L660.10 464.59 L661.34 462.41 L662.58 460.22 L663.82 458.02 L665.06 455.81 L666.30 453.60 L667.54 451.38 L668.79 449.15 L670.03 446.92 L671.27 444.68 L672.51 442.44 L673.75 440.18 L674.99 437.93 L676.23 435.66 L677.47 433.39 L678.71 431.12 L679.95 428.84 L681.19 426.55 L682.43 424.26 L683.67 421.97 L684.91 419.67 L686.16 417.37 L687.40 415.06 L688.64 412.75 L689.88 410.44 L691.12 408.12 L692.36 405.80 L693.60 403.47 L694.84 401.14 L696.08 398.81 L697.32 396.48 L698.56 394.14 L699.80 391.81 L701.04 389.47 L702.28 387.13 L703.52 384.78 L704.77 382.44 L706.01 380.09 L707.25 377.75 L708.49 375.40 L709.73 373.05 L710.97 370.70" fill="none" stroke="#0000ff" stroke-width="0.72" clip-path="url(#clip3)" stroke-opacity="0.9"/>
<rect x="491.6" y="446.05" width="4.5" height="4.5" fill="#000000"/>
<rect x="564.8" y="375.45" width="4.5" height="4.5" fill="#000000"/>
<rect x="638" y="444.75" width="4.5" height="4.5" fill="#000000"/>
<rect x="711.2" y="552.15" width="4.5" height="4.5" fill="#000000"/>
<rect x="491.6" y="484.35" width="4.5" height="4.5" fill="#0000ff"/>
<rect x="564.8" y="566.45" width="4.5" height="4.5" fill="#0000ff"/>
<rect x="638" y="496.05" width="4.5" height="4.5" fill="#0000ff"/>
<rect x="711.2" y="363.75" width="4.5" height="4.5" fill="#0000ff"/>
<g stroke="#1a1a1a" stroke-width="1.2" fill="none">
<path d="M456.9 349.1 V585.8"/>
<path d="M456.9 349.7 H750.2"/>
<path d="M456.9 585.2 H750.2"/>
<path stroke-width="1.0" d="M493.85 585.2 v4.5 M493.85 349.7 v4.5 M567.05 585.2 v4.5 M567.05 349.7 v4.5 M640.25 585.2 v4.5 M640.25 349.7 v4.5 M713.45 585.2 v4.5 M713.45 349.7 v4.5 M457.25 585.2 v2.5 M530.45 585.2 v2.5 M530.45 349.7 v2.5 M603.65 585.2 v2.5 M603.65 349.7 v2.5 M676.85 585.2 v2.5 M676.85 349.7 v2.5 M750.05 585.2 v2.5 M456.9 568 h-4.4 M456.9 534.38 h-4.4 M456.9 500.77 h-4.4 M456.9 467.15 h-4.4 M456.9 433.53 h-4.4 M456.9 399.92 h-4.4 M456.9 366.3 h-4.4 M456.9 584.81 h-2.3 M456.9 551.19 h-2.3 M456.9 517.57 h-2.3 M456.9 483.96 h-2.3 M456.9 450.34 h-2.3 M456.9 416.73 h-2.3 M456.9 383.11 h-2.3 M456.9 349.49 h-2.3"/>
</g>
<g stroke="#0000ff" stroke-width="1.35" fill="none">
<path d="M750.2 349.1 V585.8"/>
<path stroke-width="1.0" d="M750.2 585.2 h4.4 M750.2 559.02 h4.4 M750.2 532.84 h4.4 M750.2 506.67 h4.4 M750.2 480.49 h4.4 M750.2 454.31 h4.4 M750.2 428.13 h4.4 M750.2 401.96 h4.4 M750.2 375.78 h4.4 M750.2 349.6 h4.4 M750.2 572.11 h2.4 M750.2 545.93 h2.4 M750.2 519.76 h2.4 M750.2 493.58 h2.4 M750.2 467.4 h2.4 M750.2 441.22 h2.4 M750.2 415.04 h2.4 M750.2 388.87 h2.4 M750.2 362.69 h2.4"/>
</g>
<g font-size="10.5" fill="#000" text-anchor="end" stroke="#000" stroke-width="0.28">
<text transform="translate(449.3 571.1) scale(0.86 1)">0.60</text>
<text transform="translate(449.3 537.48) scale(0.86 1)">0.65</text>
<text transform="translate(449.3 503.87) scale(0.86 1)">0.70</text>
<text transform="translate(449.3 470.25) scale(0.86 1)">0.75</text>
<text transform="translate(449.3 436.63) scale(0.86 1)">0.80</text>
<text transform="translate(449.3 403.02) scale(0.86 1)">0.85</text>
<text transform="translate(449.3 369.4) scale(0.86 1)">0.90</text>
</g>
<g font-size="10.5" fill="#0000ff" text-anchor="start" stroke="#0000ff" stroke-width="0.3">
<text transform="translate(757.1 588.2) scale(0.82 1)">0</text>
<text transform="translate(757.1 562.02) scale(0.82 1)">2</text>
<text transform="translate(757.1 535.84) scale(0.82 1)">4</text>
<text transform="translate(757.1 509.67) scale(0.82 1)">6</text>
<text transform="translate(757.1 483.49) scale(0.82 1)">8</text>
<text transform="translate(757.1 457.31) scale(0.82 1)">10</text>
<text transform="translate(757.1 431.13) scale(0.82 1)">12</text>
<text transform="translate(757.1 404.96) scale(0.82 1)">14</text>
<text transform="translate(757.1 378.78) scale(0.82 1)">16</text>
<text transform="translate(757.1 352.6) scale(0.82 1)">18</text>
</g>
<g font-size="10.5" fill="#000" text-anchor="middle" stroke="#000" stroke-width="0.28">
<text transform="translate(493.85 600.8) scale(0.86 1)">RCC-T</text>
<text transform="translate(567.05 600.8) scale(0.86 1)">3nRR-T</text>
<text transform="translate(640.25 600.8) scale(0.86 1)">2nCC-T</text>
<text transform="translate(713.45 600.8) scale(0.86 1)">3nCC-T</text>
</g>
<text transform="translate(421.1 475.7) rotate(-90)" text-anchor="middle" font-size="12" font-weight="bold">Degree of methylation</text>
<text transform="translate(780.8 475.6) rotate(-90)" text-anchor="middle" font-size="13.2" font-weight="normal" stroke="#000" stroke-width="0.45">Relative Quantification</text>
<text transform="translate(603.3 620.3) scale(0.9 1)" text-anchor="middle" font-size="12" font-style="italic" font-weight="bold">Dmc1</text>
<text transform="translate(418.6 342.9)" font-size="22.5" font-weight="bold">d</text>
<rect x="671.3" y="323.4" width="67.3" height="21" fill="#000"/>
<rect x="668.3" y="320.4" width="67.3" height="21" fill="#fff" stroke="#333" stroke-width="0.6"/>
<path d="M671.3 326.5 H686.8" stroke="#000000" stroke-width="0.6" stroke-opacity="0.9"/>
<rect x="676.85" y="324.3" width="4.4" height="4.4" fill="#000000"/>
<text x="689" y="329.06" font-size="7.1" fill="#000" stroke="#000" stroke-width="0.15">Methylation</text>
<path d="M671.3 336 H686.8" stroke="#0000ff" stroke-width="0.6" stroke-opacity="0.9"/>
<rect x="676.85" y="333.8" width="4.4" height="4.4" fill="#0000ff"/>
<text x="689" y="338.56" font-size="7.1" fill="#000" stroke="#000" stroke-width="0.15">Quantification</text>
</svg>
</body>
</html>
